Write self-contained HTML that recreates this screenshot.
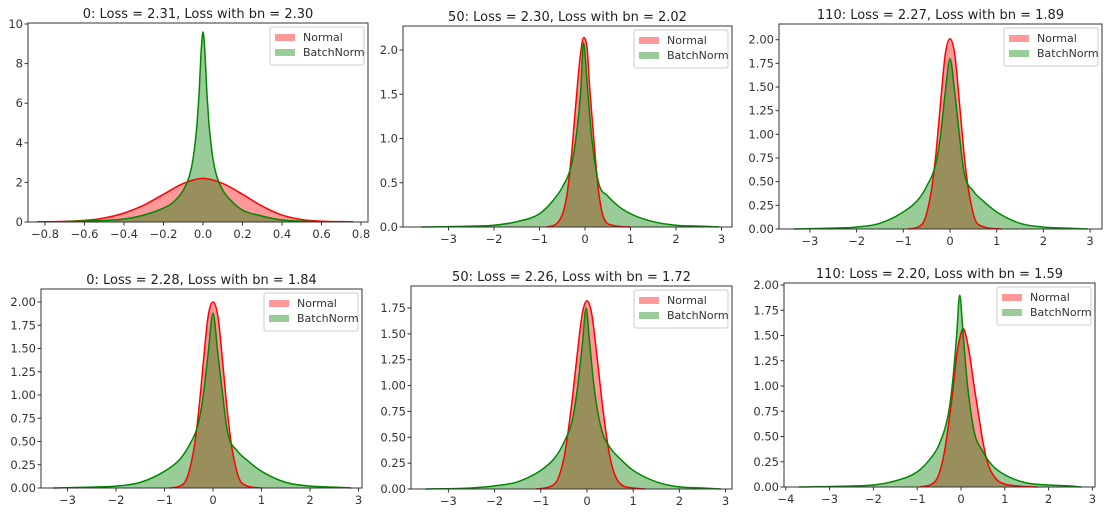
<!DOCTYPE html>
<html><head><meta charset="utf-8"><style>
body{margin:0;background:#fff;width:1115px;height:510px;overflow:hidden}
svg{font-family:"DejaVu Sans","Liberation Sans",sans-serif}
</style></head><body>
<svg id="fig" width="1115" height="510"></svg>
<script>
// ---- data ----
const titles=["0: Loss = 2.31, Loss with bn = 2.30","50: Loss = 2.30, Loss with bn = 2.02","110: Loss = 2.27, Loss with bn = 1.89","0: Loss = 2.28, Loss with bn = 1.84","50: Loss = 2.26, Loss with bn = 1.72","110: Loss = 2.20, Loss with bn = 1.59"];
const p1NormX=[-0.84,-0.7,-0.6,-0.5,-0.4,-0.3,-0.2,-0.1,0,0.1,0.2,0.3,0.4,0.5,0.6,0.76];
const p1NormY=[0.01,0.03,0.08,0.2,0.45,0.85,1.4,1.95,2.2,1.95,1.4,0.8,0.35,0.12,0.04,0.01];
const p1BnX=[-0.7,-0.4,-0.3,-0.2,-0.15,-0.1,-0.07,-0.05,-0.03,-0.02,-0.01,0,0.01,0.02,0.03,0.05,0.07,0.1,0.15,0.2,0.3,0.4,0.56];
const p1BnY=[0.02,0.15,0.35,0.7,1.0,1.6,2.3,3.2,5,6.5,8.5,9.6,8.5,6.5,5,3.2,2.3,1.6,1.0,0.6,0.3,0.1,0.02];
const p2NormX=[-0.85,-0.6,-0.4,-0.3,-0.2,-0.1,-0.03,0.05,0.1,0.2,0.3,0.4,0.6,1.0];
const p2NormY=[0,0.05,0.35,0.8,1.4,1.95,2.14,2.0,1.6,0.95,0.4,0.12,0.02,0];
const p2BnX=[-3.6,-2.5,-2,-1.5,-1,-0.7,-0.5,-0.3,-0.2,-0.1,-0.03,0.05,0.15,0.3,0.5,0.7,1,1.5,2,2.5,2.95];
const p2BnY=[0,0.01,0.02,0.06,0.15,0.3,0.45,0.7,1.0,1.5,2.08,1.6,1.0,0.5,0.35,0.25,0.15,0.06,0.02,0.01,0];
const p3NormX=[-0.9,-0.6,-0.4,-0.3,-0.2,-0.1,0,0.1,0.2,0.3,0.4,0.6,1.1];
const p3NormY=[0,0.05,0.4,0.8,1.35,1.85,2.01,1.85,1.35,0.8,0.4,0.05,0];
const p3BnX=[-3.35,-2.5,-2,-1.5,-1,-0.7,-0.5,-0.3,-0.2,-0.1,0,0.1,0.2,0.3,0.5,0.7,1,1.5,2,2.5,2.95];
const p3BnY=[0,0.01,0.02,0.06,0.18,0.3,0.45,0.7,1.0,1.45,1.8,1.45,1.0,0.6,0.4,0.3,0.18,0.06,0.02,0.01,0];
const p4NormX=[-0.9,-0.6,-0.4,-0.3,-0.2,-0.1,0,0.1,0.2,0.3,0.4,0.6,1.0];
const p4NormY=[0,0.05,0.4,0.8,1.35,1.85,2.0,1.85,1.35,0.8,0.4,0.05,0];
const p4BnX=[-3.3,-2.5,-2,-1.5,-1,-0.7,-0.5,-0.3,-0.2,-0.1,0,0.1,0.2,0.3,0.5,0.7,1,1.5,2,2.5,2.85];
const p4BnY=[0,0.01,0.02,0.06,0.18,0.3,0.45,0.7,1.0,1.45,1.88,1.45,1.0,0.6,0.4,0.3,0.18,0.06,0.02,0.01,0];
const p5NormX=[-1.1,-0.7,-0.5,-0.35,-0.2,-0.1,0,0.1,0.2,0.35,0.5,0.7,1.0,1.25];
const p5NormY=[0,0.05,0.3,0.75,1.35,1.7,1.82,1.7,1.35,0.75,0.3,0.06,0.01,0];
const p5BnX=[-3.5,-2.5,-2,-1.5,-1,-0.7,-0.5,-0.3,-0.2,-0.1,-0.02,0.05,0.15,0.3,0.5,0.7,1,1.5,2,2.5,2.9];
const p5BnY=[0,0.01,0.03,0.07,0.18,0.3,0.45,0.7,1.0,1.4,1.75,1.45,1.0,0.6,0.4,0.3,0.18,0.07,0.02,0.01,0];
const p6NormX=[-0.95,-0.6,-0.4,-0.2,-0.1,0,0.05,0.1,0.2,0.3,0.4,0.5,0.6,0.8,1.0,1.3,1.75];
const p6NormY=[0,0.05,0.3,0.9,1.3,1.52,1.57,1.52,1.3,1.0,0.72,0.45,0.25,0.08,0.03,0.01,0];
const p6BnX=[-3.7,-2.5,-2,-1.5,-1,-0.7,-0.5,-0.3,-0.2,-0.1,-0.03,0.05,0.15,0.3,0.5,0.7,1,1.5,2,2.5,2.75];
const p6BnY=[0,0.01,0.02,0.06,0.15,0.28,0.42,0.7,1.0,1.5,1.9,1.5,1.0,0.55,0.35,0.22,0.12,0.04,0.02,0.01,0];
const p1XTicks=[-0.8,-0.6,-0.4,-0.2,0,0.2,0.4,0.6,0.8];
const p1YTicks=[0,2,4,6,8,10];
const pXTicks3=[-3,-2,-1,0,1,2,3];
const p6XTicks=[-4,-3,-2,-1,0,1,2,3];
const p2YTicks=[0,0.5,1.0,1.5,2.0];
const pYTicks2=[0,0.25,0.5,0.75,1.0,1.25,1.5,1.75,2.0];
const p5YTicks=[0,0.25,0.5,0.75,1.0,1.25,1.5,1.75];

// ---- layout (pixel calibration) ----
const panels=[
 {L:28,R:368,T:23,B:222,x0:203,xs:197.5,ys:(222-24)/10,nx:p1NormX,ny:p1NormY,bx:p1BnX,by:p1BnY,xt:p1XTicks,yt:p1YTicks,fmt:v=>v.toFixed(1),yf:v=>String(v)},
 {L:403,R:732,T:26,B:227,x0:585,xs:45.5,ys:(227-50)/2,nx:p2NormX,ny:p2NormY,bx:p2BnX,by:p2BnY,xt:pXTicks3,yt:p2YTicks,fmt:v=>String(v),yf:v=>v.toFixed(1)},
 {L:779,R:1102,T:24,B:229,x0:950,xs:46.7,ys:(229-39.7)/2,nx:p3NormX,ny:p3NormY,bx:p3BnX,by:p3BnY,xt:pXTicks3,yt:pYTicks2,fmt:v=>String(v),yf:v=>v.toFixed(2)},
 {L:41,R:362,T:289,B:488,x0:213,xs:48.5,ys:(488-302)/2,nx:p4NormX,ny:p4NormY,bx:p4BnX,by:p4BnY,xt:pXTicks3,yt:pYTicks2,fmt:v=>String(v),yf:v=>v.toFixed(2)},
 {L:411,R:732,T:286,B:489,x0:587,xs:46.2,ys:(489-308)/1.75,nx:p5NormX,ny:p5NormY,bx:p5BnX,by:p5BnY,xt:pXTicks3,yt:p5YTicks,fmt:v=>String(v),yf:v=>v.toFixed(2)},
 {L:784,R:1095,T:283,B:487,x0:961,xs:43.8,ys:(487-285)/2,nx:p6NormX,ny:p6NormY,bx:p6BnX,by:p6BnY,xt:p6XTicks,yt:pYTicks2,fmt:v=>String(v),yf:v=>v.toFixed(2)}
];
const NS="http://www.w3.org/2000/svg";
const fig=document.getElementById('fig');
function mk(tag,attrs,parent){const e=document.createElementNS(NS,tag);for(const k in attrs)e.setAttribute(k,attrs[k]);(parent||fig).appendChild(e);return e;}
// monotone cubic (Fritsch-Carlson) path through screen points
function smooth(P){
 const n=P.length;if(n<2)return '';
 const dx=[],dy=[],m=[],t=[];
 for(let i=0;i<n-1;i++){dx[i]=P[i+1][0]-P[i][0];dy[i]=P[i+1][1]-P[i][1];m[i]=dy[i]/dx[i];}
 t[0]=m[0];t[n-1]=m[n-2];
 for(let i=1;i<n-1;i++){t[i]=(m[i-1]*m[i]<=0)?0:(m[i-1]+m[i])/2;}
 for(let i=0;i<n-1;i++){if(m[i]===0){t[i]=0;t[i+1]=0;continue;}const a=t[i]/m[i],b=t[i+1]/m[i],s=a*a+b*b;if(s>9){const k=3/Math.sqrt(s);t[i]=k*a*m[i];t[i+1]=k*b*m[i];}}
 let d='';
 for(let i=0;i<n-1;i++){const h=dx[i]/3;d+=' C'+(P[i][0]+h).toFixed(1)+','+(P[i][1]+t[i]*h).toFixed(1)+' '+(P[i+1][0]-h).toFixed(1)+','+(P[i+1][1]-t[i+1]*h).toFixed(1)+' '+P[i+1][0].toFixed(1)+','+P[i+1][1].toFixed(1);}
 return d;
}
panels.forEach((p,i)=>{
 const g=mk('g',{});
 
 
 const X=v=>p.x0+v*p.xs, Y=v=>Math.min(p.B,p.B-v*p.ys);
 const series=[[p.nx,p.ny,'rgba(255,0,0,0.4)','#f00','normal'],[p.bx,p.by,'rgba(0,128,0,0.4)','#080','batchnorm']];
 const curves=series.map(s=>{const P=s[0].map((x,j)=>[X(x),Y(s[1][j])]);return {P:P,d:smooth(P)};});
 series.forEach((s,k)=>{
  const c=curves[k];
  const d='M'+c.P[0][0].toFixed(1)+','+p.B+' L'+c.P[0][0].toFixed(1)+','+c.P[0][1].toFixed(1)+c.d+' L'+c.P[c.P.length-1][0].toFixed(1)+','+p.B+'Z';
  const a=mk('path',{d:d,fill:s[2],stroke:'none'},g);
  
  
 });
 series.forEach((s,k)=>{
  const c=curves[k];
  const l=mk('path',{d:'M'+c.P[0][0].toFixed(1)+','+c.P[0][1].toFixed(1)+c.d,fill:'none',stroke:s[3],'stroke-width':1.5},g);
  
  
 });
 const fr=mk('rect',{x:p.L,y:p.T,width:p.R-p.L,height:p.B-p.T,fill:'none',stroke:'#333','stroke-width':1},g);
 
 
 p.xt.forEach(v=>{
  const x=X(v);
  mk('line',{x1:x,x2:x,y1:p.B,y2:p.B+3.5,stroke:'#333'},g);
  const t=mk('text',{x:x,y:p.B+16,'font-size':11.5,'text-anchor':'middle',fill:'#333'},g);
  t.textContent=(v<0?'\u2212':'')+p.fmt(Math.abs(v));
  
  
 });
 p.yt.forEach(v=>{
  const y=Y(v);
  mk('line',{x1:p.L-3.5,x2:p.L,y1:y,y2:y,stroke:'#333'},g);
  const t=mk('text',{x:p.L-5,y:y+4,'font-size':11.5,'text-anchor':'end',fill:'#333'},g);
  t.textContent=p.yf(v);
  
  
 });
 const tt=mk('text',{x:(p.L+p.R)/2,y:p.T-5,'font-size':13,'text-anchor':'middle',fill:'#222'},g);
 tt.textContent=titles[i];
 
 
 const lg=mk('g',{},g);
 
 
 const lx=p.R-98, ly=p.T+4;
 mk('rect',{x:lx,y:ly,width:94,height:38,fill:'#fff',stroke:'#ccc',rx:2},lg);
 [['Normal','rgba(255,0,0,0.4)'],['BatchNorm','rgba(0,128,0,0.4)']].forEach((e,k)=>{
  mk('rect',{x:lx+5,y:ly+7+k*15,width:20,height:7,fill:e[1]},lg);
  const t=mk('text',{x:lx+33,y:ly+14+k*15,'font-size':11,fill:'#333'},lg);
  t.textContent=e[0];
  
  
 });
});
</script>
</body></html>
